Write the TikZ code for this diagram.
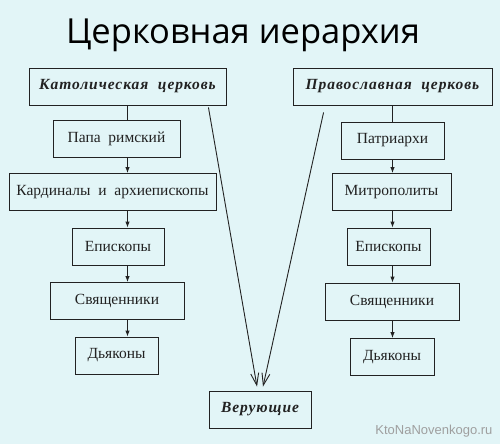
\documentclass[tikz,border=0pt]{standalone}
\usepackage{fontspec}
\setmainfont{Liberation Serif}
\newfontfamily\titlefont{Open Sans}
\newfontfamily\markfont{Liberation Sans}
\newfontfamily\spacedfont[LetterSpace=6]{Liberation Serif}
\usetikzlibrary{arrows.meta}
\definecolor{bgcyan}{HTML}{E2F5F7}
\definecolor{ink}{HTML}{222222}
\begin{document}
\begin{tikzpicture}[x=1pt, y=-1pt,
  box/.style={draw=ink, line width=0.9pt, minimum height=37pt, inner sep=2pt,
    font=\fontsize{15.5}{17}\selectfont, text=ink},
  church/.style={box, font=\spacedfont\fontsize{15.5}{17}\selectfont\bfseries\itshape},
  step arrow/.style={-{Latex[length=6pt,width=4.5pt]}, ink, line width=0.9pt},
  long arrow/.style={-{Straight Barb[length=12pt,width=8pt]}, ink, line width=0.9pt}]

\fill[bgcyan] (0,0) rectangle (500,444);
\useasboundingbox (0,0) rectangle (500,444);

% title
\node (title) at (243,35) {\titlefont\fontsize{34.5}{40}\selectfont Церковная иерархия};

% nodes
\node[church, minimum width=197pt] (kat) at (127.5,86.5) {Католическая\ \ церковь};
\node[church, minimum width=199pt] (prav) at (392.5,86.5) {Православная\ \ церковь};

\node[box, minimum width=127pt] (papa) at (116.5,139) {Папа\ \ римский};
\node[box, minimum width=207pt] (kard) at (112.5,192) {Кардиналы\ \ и\ \ архиепископы};
\node[box, minimum width=92pt] (epL) at (118,246.5) {Епископы};
\node[box, minimum width=134pt] (svL) at (117,301) {Священники};
\node[box, minimum width=83pt] (dyL) at (116.5,355.5) {Дьяконы};

\node[box, minimum width=103pt] (patr) at (392.5,140.5) {Патриархи};
\node[box, minimum width=119pt] (mitr) at (391.5,192) {Митрополиты};
\node[box, minimum width=83pt] (epR) at (388.5,246.5) {Епископы};
\node[box, minimum width=134pt] (svR) at (392,301.5) {Священники};
\node[box, minimum width=84pt] (dyR) at (392,357) {Дьяконы};

\node[church, minimum width=102pt] (ver) at (260,409.5) {Верующие};

\node[text=gray!75, anchor=south east] (mark) at (496,441) {\markfont\fontsize{13}{15}\selectfont KtoNaNovenkogo.ru};

% arrows
\draw[ink, line width=0.9pt] (kat.south) -- (kat.south |- papa.north);
\draw[step arrow] (kat.south |- papa.south) -- (kat.south |- kard.north);
\draw[step arrow] (kat.south |- kard.south) -- (kat.south |- epL.north);
\draw[step arrow] (kat.south |- epL.south) -- (kat.south |- svL.north);
\draw[step arrow] (kat.south |- svL.south) -- (kat.south |- dyL.north);

\draw[ink, line width=0.9pt] (prav.south) -- (prav.south |- patr.north);
\draw[step arrow] (prav.south |- patr.south) -- (prav.south |- mitr.north);
\draw[step arrow] (prav.south |- mitr.south) -- (prav.south |- epR.north);
\draw[step arrow] (prav.south |- epR.south) -- (prav.south |- svR.north);
\draw[step arrow] (prav.south |- svR.south) -- (prav.south |- dyR.north);

\draw[long arrow] ([xshift=-18pt,yshift=-2pt]kat.south east) -- ([xshift=-3pt,yshift=4pt]ver.north);
\draw[long arrow] ([xshift=31pt,yshift=-7pt]prav.south west) -- ([xshift=3pt,yshift=4pt]ver.north);

\end{tikzpicture}
\end{document}
